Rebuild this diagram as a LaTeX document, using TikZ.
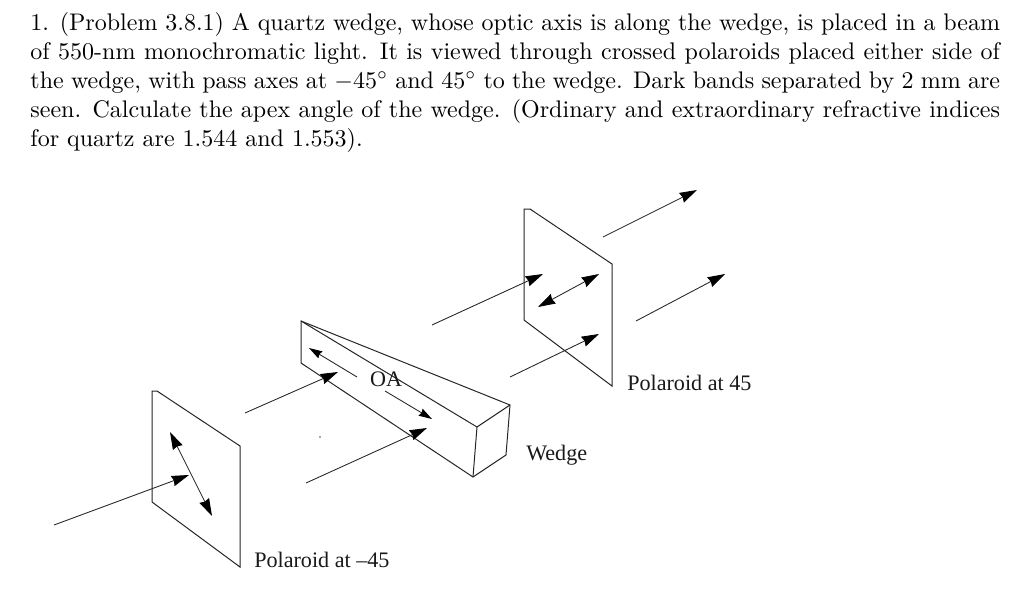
\documentclass[tikz,border=0pt]{standalone}
\usepackage{amsmath}
\usepackage{xcolor}
\usepackage{fontspec}
\newfontfamily\labelfont{Liberation Serif}
\usetikzlibrary{arrows.meta}
\tikzstyle{plate} = [draw=black!85, line width=0.75pt, line join=miter]
\tikzstyle{ray} = [draw=black!85, line width=0.65pt, -{Stealth[length=13pt,width=8pt,inset=1pt,black]}]
\tikzstyle{axis} = [draw=black!85, line width=0.65pt, {Stealth[length=13pt,width=8pt,inset=1pt,black]}-{Stealth[length=13pt,width=8pt,inset=1pt,black]}]
\tikzstyle{label} = [font=\labelfont\fontsize{16.6}{20}\selectfont, inner sep=0pt, text=black!90]
\tikzstyle{problem} = [font=\fontsize{10}{12.08}\selectfont, scale=1.8, text width=404pt, align=justify, inner sep=0pt, anchor=north west]

\begin{document}
\begin{tikzpicture}[x=0.75pt, y=-0.75pt]
   \useasboundingbox (0,0) rectangle (1024,611);
   \node (text) [problem] at (30,12) {1. (Problem 3.8.1) A quartz wedge, whose optic axis is along the wedge, is placed in a beam\linebreak
   of 550-nm monochromatic light. It is viewed through crossed polaroids placed either side of\linebreak
   the wedge, with pass axes at $-45^\circ$ and $45^\circ$ to the wedge. Dark bands separated by 2 mm are\linebreak
   seen. Calculate the apex angle of the wedge. (Ordinary and extraordinary refractive indices\linebreak
   for quartz are 1.544 and 1.553).};
   % left polaroid
   \coordinate (la) at (152,391);
   \coordinate (lb) at (157,391);
   \coordinate (lc) at (240,446);
   \coordinate (ld) at (240,567);
   \coordinate (le) at (152,502);
   \draw [plate] (la) -- (lb) -- (lc) -- (ld) -- (le) -- cycle;
   % wedge
   \coordinate (wa) at (301,321);
   \coordinate (wb) at (301,363);
   \coordinate (wc) at (510,405);
   \coordinate (wd) at (477,427);
   \coordinate (we) at (473,477);
   \coordinate (wf) at (506,455);
   \draw [plate] (wb) -- (wa) -- (wc) -- (wf) -- (we) -- cycle;
   \draw [plate] (wa) -- (wd) -- (we);
   \draw [plate] (wd) -- (wc);
   % right polaroid
   \coordinate (ra) at (524,209);
   \coordinate (rb) at (530,209);
   \coordinate (rc) at (612,264);
   \coordinate (rd) at (612,386);
   \coordinate (re) at (524,320);
   \draw [plate] (ra) -- (rb) -- (rc) -- (rd) -- (re) -- cycle;
   % rays
   \coordinate (s1) at (54,525);
   \coordinate (t1) at (189,475);
   \coordinate (s2) at (245,413);
   \coordinate (t2) at (338,372);
   \coordinate (s3) at (306,483);
   \coordinate (t3) at (427,428);
   \coordinate (s4) at (432,325);
   \coordinate (t4) at (543,274);
   \coordinate (s5) at (510,377);
   \coordinate (t5) at (599,334);
   \coordinate (s6) at (603,237);
   \coordinate (t6) at (697,190);
   \coordinate (s7) at (636,321);
   \coordinate (t7) at (725,274);
   \foreach \i in {1,...,7}
      \draw [ray] (s\i) -- (t\i);
   % pass axes and optic axis
   \coordinate (p1) at (170,432);
   \coordinate (p2) at (212,516);
   \coordinate (q1) at (538,307);
   \coordinate (q2) at (599,274);
   \draw [axis] (p1) -- (p2);
   \draw [axis] (q1) -- (q2);
   \node (oa) [label] at (386,379) {OA};
   \coordinate (o1) at (357,377);
   \coordinate (o2) at (309,348);
   \coordinate (o3) at (385,391);
   \coordinate (o4) at (432,419);
   \draw [ray, -{Stealth[length=10pt,width=6pt,inset=1pt,black]}] (o1) -- (o2);
   \draw [ray, -{Stealth[length=10pt,width=6pt,inset=1pt,black]}] (o3) -- (o4);
   % speck left of the lower ray
   \fill [black!70] (320,437) circle (0.8);
   % labels
   \node (pr) [label, anchor=base west] at (627,390) {Polaroid at 45};
   \node (wl) [label, anchor=base west] at (526,460) {Wedge};
   \node (pl) [label, anchor=base west] at (254,567) {Polaroid at \textendash45};
\end{tikzpicture}
\end{document}
